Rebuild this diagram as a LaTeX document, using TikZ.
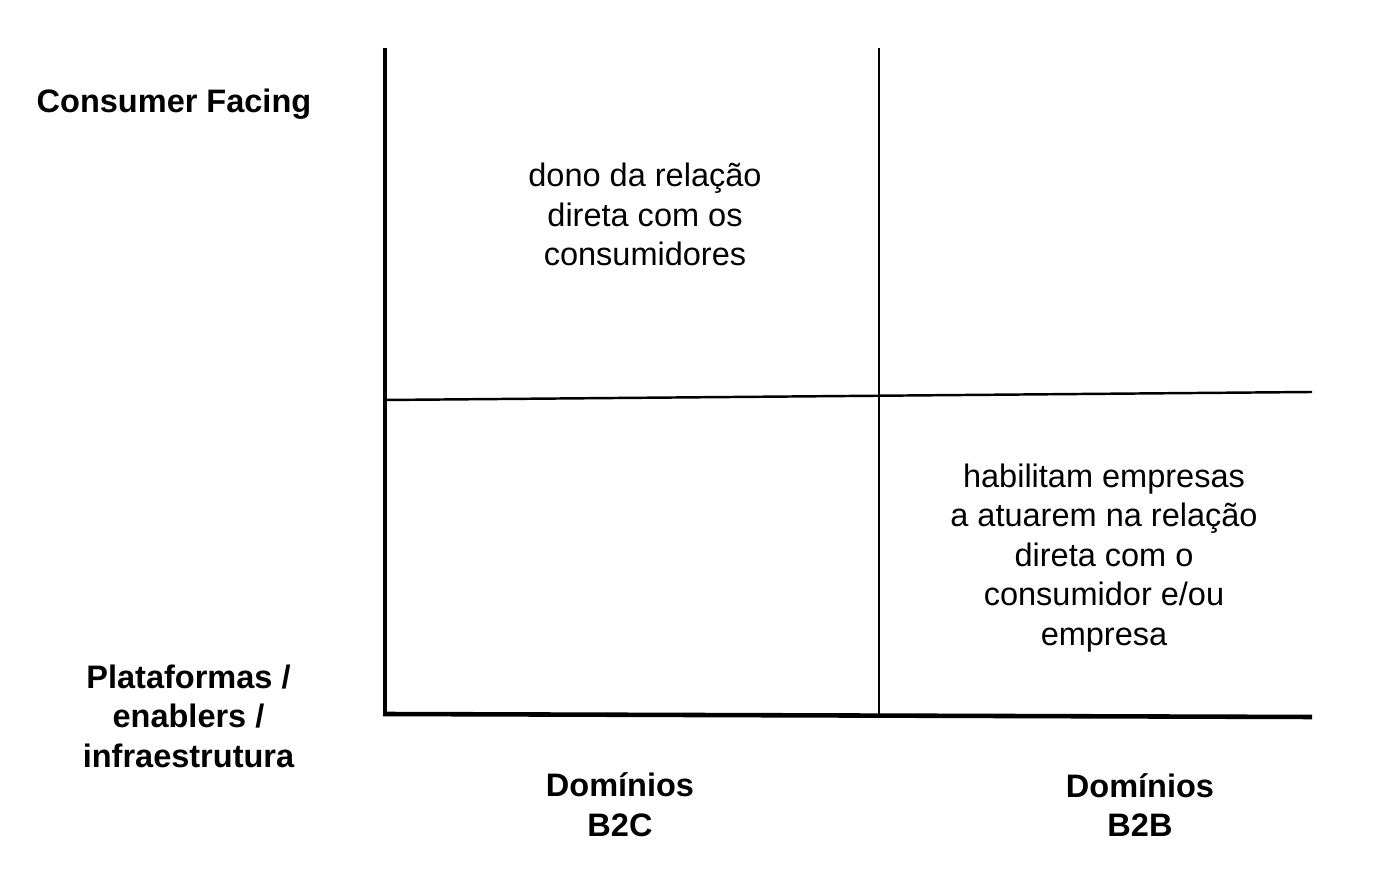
\documentclass[tikz,border=0pt]{standalone}
\usepackage{fontspec}
\setmainfont{Liberation Sans}
\usepackage{tikz}
\usetikzlibrary{positioning}

\begin{document}
\begin{tikzpicture}[
    every node/.style={font=\fontsize{18.5}{22.5}\selectfont},
    axisline/.style={line width=2.6pt},
    divider/.style={line width=1.4pt},
    axislabel/.style={font=\fontsize{18.5}{22.5}\selectfont\bfseries, align=center, inner sep=0pt},
    quadtext/.style={align=center, inner sep=0pt}
]
\useasboundingbox (0,0) rectangle (27.76,17.84);

% Axes and dividers
\coordinate (ytop) at (7.70,16.88);
\coordinate (origin) at (7.66,3.56);
\coordinate (xend) at (26.24,3.50);
\coordinate (midtop) at (17.58,16.88);
\coordinate (midbot) at (17.58,3.48);
\coordinate (hleft) at (7.70,9.84);
\coordinate (hright) at (26.24,10.00);

\draw[divider] (midtop) -- (midbot);
\draw[divider] (hleft) -- (hright);
\draw[axisline] (ytop) -- (7.70,3.52);
\draw[axisline] (origin) -- (xend);

% Axis labels
\node[axislabel] (consumer) at (3.48,15.76) {Consumer Facing};
\node[axislabel] (platforms) at (3.77,3.52) {Plataformas /\\enablers /\\infraestrutura};
\node[axislabel] (b2c) at (12.40,1.74) {Domínios\\B2C};
\node[axislabel] (b2b) at (22.80,1.74) {Domínios\\B2B};

% Quadrant texts
\node[quadtext] (owner) at (12.90,13.55) {dono da relação\\direta com os\\consumidores};
\node[quadtext] (enablers) at (22.08,6.68) {habilitam empresas\\a atuarem na relação\\direta com o\\consumidor e/ou\\empresa};

\end{tikzpicture}
\end{document}
